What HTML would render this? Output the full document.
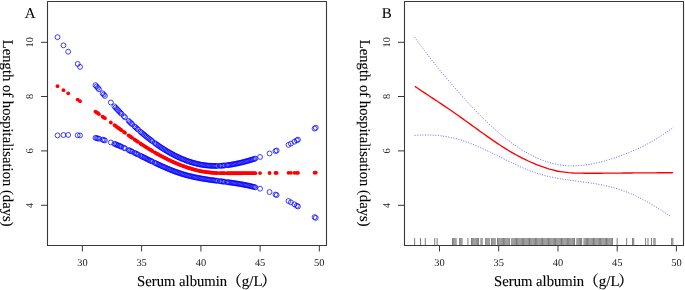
<!DOCTYPE html>
<html><head><meta charset="utf-8"><style>
html,body{margin:0;padding:0;background:#fff;}
body{width:685px;height:290px;overflow:hidden;position:relative;}
svg{position:absolute;left:0;top:0;}
text{text-rendering:geometricPrecision;}
.tl{font-family:"Liberation Serif","Times New Roman",serif;font-size:10.4px;fill:#222;}
.ttl{font-family:"Liberation Serif","Noto Serif CJK SC",serif;font-size:15px;fill:#000;stroke:#000;stroke-width:0.12px;}
</style></head><body>
<svg width="685" height="290" viewBox="0 0 685 290">
<circle cx="57.53" cy="37.17" r="2.45" fill="none" stroke="#0000ff" stroke-width="0.75"/>
<circle cx="57.53" cy="135.38" r="2.45" fill="none" stroke="#0000ff" stroke-width="0.75"/>
<circle cx="63.45" cy="45.31" r="2.45" fill="none" stroke="#0000ff" stroke-width="0.75"/>
<circle cx="63.45" cy="135.05" r="2.45" fill="none" stroke="#0000ff" stroke-width="0.75"/>
<circle cx="68.19" cy="51.69" r="2.45" fill="none" stroke="#0000ff" stroke-width="0.75"/>
<circle cx="68.19" cy="134.96" r="2.45" fill="none" stroke="#0000ff" stroke-width="0.75"/>
<circle cx="77.66" cy="63.95" r="2.45" fill="none" stroke="#0000ff" stroke-width="0.75"/>
<circle cx="77.66" cy="135.26" r="2.45" fill="none" stroke="#0000ff" stroke-width="0.75"/>
<circle cx="80.03" cy="66.89" r="2.45" fill="none" stroke="#0000ff" stroke-width="0.75"/>
<circle cx="80.03" cy="135.45" r="2.45" fill="none" stroke="#0000ff" stroke-width="0.75"/>
<circle cx="95.43" cy="85.14" r="2.45" fill="none" stroke="#0000ff" stroke-width="0.75"/>
<circle cx="95.43" cy="137.84" r="2.45" fill="none" stroke="#0000ff" stroke-width="0.75"/>
<circle cx="96.61" cy="86.50" r="2.45" fill="none" stroke="#0000ff" stroke-width="0.75"/>
<circle cx="96.61" cy="138.11" r="2.45" fill="none" stroke="#0000ff" stroke-width="0.75"/>
<circle cx="97.80" cy="87.86" r="2.45" fill="none" stroke="#0000ff" stroke-width="0.75"/>
<circle cx="97.80" cy="138.40" r="2.45" fill="none" stroke="#0000ff" stroke-width="0.75"/>
<circle cx="98.98" cy="89.22" r="2.45" fill="none" stroke="#0000ff" stroke-width="0.75"/>
<circle cx="98.98" cy="138.70" r="2.45" fill="none" stroke="#0000ff" stroke-width="0.75"/>
<circle cx="102.54" cy="93.26" r="2.45" fill="none" stroke="#0000ff" stroke-width="0.75"/>
<circle cx="102.54" cy="139.68" r="2.45" fill="none" stroke="#0000ff" stroke-width="0.75"/>
<circle cx="103.72" cy="94.60" r="2.45" fill="none" stroke="#0000ff" stroke-width="0.75"/>
<circle cx="103.72" cy="140.04" r="2.45" fill="none" stroke="#0000ff" stroke-width="0.75"/>
<circle cx="104.91" cy="95.93" r="2.45" fill="none" stroke="#0000ff" stroke-width="0.75"/>
<circle cx="104.91" cy="140.41" r="2.45" fill="none" stroke="#0000ff" stroke-width="0.75"/>
<circle cx="110.83" cy="102.49" r="2.45" fill="none" stroke="#0000ff" stroke-width="0.75"/>
<circle cx="110.83" cy="142.44" r="2.45" fill="none" stroke="#0000ff" stroke-width="0.75"/>
<circle cx="114.38" cy="106.33" r="2.45" fill="none" stroke="#0000ff" stroke-width="0.75"/>
<circle cx="114.38" cy="143.80" r="2.45" fill="none" stroke="#0000ff" stroke-width="0.75"/>
<circle cx="115.57" cy="107.60" r="2.45" fill="none" stroke="#0000ff" stroke-width="0.75"/>
<circle cx="115.57" cy="144.27" r="2.45" fill="none" stroke="#0000ff" stroke-width="0.75"/>
<circle cx="116.75" cy="108.85" r="2.45" fill="none" stroke="#0000ff" stroke-width="0.75"/>
<circle cx="116.75" cy="144.75" r="2.45" fill="none" stroke="#0000ff" stroke-width="0.75"/>
<circle cx="117.94" cy="110.10" r="2.45" fill="none" stroke="#0000ff" stroke-width="0.75"/>
<circle cx="117.94" cy="145.25" r="2.45" fill="none" stroke="#0000ff" stroke-width="0.75"/>
<circle cx="119.12" cy="111.33" r="2.45" fill="none" stroke="#0000ff" stroke-width="0.75"/>
<circle cx="119.12" cy="145.75" r="2.45" fill="none" stroke="#0000ff" stroke-width="0.75"/>
<circle cx="120.30" cy="112.56" r="2.45" fill="none" stroke="#0000ff" stroke-width="0.75"/>
<circle cx="120.30" cy="146.25" r="2.45" fill="none" stroke="#0000ff" stroke-width="0.75"/>
<circle cx="121.49" cy="113.78" r="2.45" fill="none" stroke="#0000ff" stroke-width="0.75"/>
<circle cx="121.49" cy="146.77" r="2.45" fill="none" stroke="#0000ff" stroke-width="0.75"/>
<circle cx="123.86" cy="116.18" r="2.45" fill="none" stroke="#0000ff" stroke-width="0.75"/>
<circle cx="123.86" cy="147.82" r="2.45" fill="none" stroke="#0000ff" stroke-width="0.75"/>
<circle cx="125.04" cy="117.36" r="2.45" fill="none" stroke="#0000ff" stroke-width="0.75"/>
<circle cx="125.04" cy="148.36" r="2.45" fill="none" stroke="#0000ff" stroke-width="0.75"/>
<circle cx="128.60" cy="120.84" r="2.45" fill="none" stroke="#0000ff" stroke-width="0.75"/>
<circle cx="128.60" cy="150.01" r="2.45" fill="none" stroke="#0000ff" stroke-width="0.75"/>
<circle cx="129.78" cy="121.98" r="2.45" fill="none" stroke="#0000ff" stroke-width="0.75"/>
<circle cx="129.78" cy="150.57" r="2.45" fill="none" stroke="#0000ff" stroke-width="0.75"/>
<circle cx="130.96" cy="123.10" r="2.45" fill="none" stroke="#0000ff" stroke-width="0.75"/>
<circle cx="130.96" cy="151.13" r="2.45" fill="none" stroke="#0000ff" stroke-width="0.75"/>
<circle cx="132.15" cy="124.22" r="2.45" fill="none" stroke="#0000ff" stroke-width="0.75"/>
<circle cx="132.15" cy="151.70" r="2.45" fill="none" stroke="#0000ff" stroke-width="0.75"/>
<circle cx="134.52" cy="126.41" r="2.45" fill="none" stroke="#0000ff" stroke-width="0.75"/>
<circle cx="134.52" cy="152.84" r="2.45" fill="none" stroke="#0000ff" stroke-width="0.75"/>
<circle cx="135.70" cy="127.49" r="2.45" fill="none" stroke="#0000ff" stroke-width="0.75"/>
<circle cx="135.70" cy="153.42" r="2.45" fill="none" stroke="#0000ff" stroke-width="0.75"/>
<circle cx="136.89" cy="128.55" r="2.45" fill="none" stroke="#0000ff" stroke-width="0.75"/>
<circle cx="136.89" cy="154.00" r="2.45" fill="none" stroke="#0000ff" stroke-width="0.75"/>
<circle cx="138.07" cy="129.61" r="2.45" fill="none" stroke="#0000ff" stroke-width="0.75"/>
<circle cx="138.07" cy="154.59" r="2.45" fill="none" stroke="#0000ff" stroke-width="0.75"/>
<circle cx="140.44" cy="131.67" r="2.45" fill="none" stroke="#0000ff" stroke-width="0.75"/>
<circle cx="140.44" cy="155.76" r="2.45" fill="none" stroke="#0000ff" stroke-width="0.75"/>
<circle cx="141.62" cy="132.69" r="2.45" fill="none" stroke="#0000ff" stroke-width="0.75"/>
<circle cx="141.62" cy="156.34" r="2.45" fill="none" stroke="#0000ff" stroke-width="0.75"/>
<circle cx="142.81" cy="133.69" r="2.45" fill="none" stroke="#0000ff" stroke-width="0.75"/>
<circle cx="142.81" cy="156.93" r="2.45" fill="none" stroke="#0000ff" stroke-width="0.75"/>
<circle cx="143.99" cy="134.68" r="2.45" fill="none" stroke="#0000ff" stroke-width="0.75"/>
<circle cx="143.99" cy="157.52" r="2.45" fill="none" stroke="#0000ff" stroke-width="0.75"/>
<circle cx="145.18" cy="135.65" r="2.45" fill="none" stroke="#0000ff" stroke-width="0.75"/>
<circle cx="145.18" cy="158.10" r="2.45" fill="none" stroke="#0000ff" stroke-width="0.75"/>
<circle cx="146.36" cy="136.62" r="2.45" fill="none" stroke="#0000ff" stroke-width="0.75"/>
<circle cx="146.36" cy="158.69" r="2.45" fill="none" stroke="#0000ff" stroke-width="0.75"/>
<circle cx="147.55" cy="137.57" r="2.45" fill="none" stroke="#0000ff" stroke-width="0.75"/>
<circle cx="147.55" cy="159.27" r="2.45" fill="none" stroke="#0000ff" stroke-width="0.75"/>
<circle cx="148.73" cy="138.50" r="2.45" fill="none" stroke="#0000ff" stroke-width="0.75"/>
<circle cx="148.73" cy="159.86" r="2.45" fill="none" stroke="#0000ff" stroke-width="0.75"/>
<circle cx="149.92" cy="139.42" r="2.45" fill="none" stroke="#0000ff" stroke-width="0.75"/>
<circle cx="149.92" cy="160.44" r="2.45" fill="none" stroke="#0000ff" stroke-width="0.75"/>
<circle cx="151.10" cy="140.33" r="2.45" fill="none" stroke="#0000ff" stroke-width="0.75"/>
<circle cx="151.10" cy="161.02" r="2.45" fill="none" stroke="#0000ff" stroke-width="0.75"/>
<circle cx="152.29" cy="141.23" r="2.45" fill="none" stroke="#0000ff" stroke-width="0.75"/>
<circle cx="152.29" cy="161.59" r="2.45" fill="none" stroke="#0000ff" stroke-width="0.75"/>
<circle cx="154.65" cy="142.97" r="2.45" fill="none" stroke="#0000ff" stroke-width="0.75"/>
<circle cx="154.65" cy="162.73" r="2.45" fill="none" stroke="#0000ff" stroke-width="0.75"/>
<circle cx="155.84" cy="143.83" r="2.45" fill="none" stroke="#0000ff" stroke-width="0.75"/>
<circle cx="155.84" cy="163.30" r="2.45" fill="none" stroke="#0000ff" stroke-width="0.75"/>
<circle cx="157.02" cy="144.67" r="2.45" fill="none" stroke="#0000ff" stroke-width="0.75"/>
<circle cx="157.02" cy="163.86" r="2.45" fill="none" stroke="#0000ff" stroke-width="0.75"/>
<circle cx="158.21" cy="145.49" r="2.45" fill="none" stroke="#0000ff" stroke-width="0.75"/>
<circle cx="158.21" cy="164.42" r="2.45" fill="none" stroke="#0000ff" stroke-width="0.75"/>
<circle cx="159.39" cy="146.30" r="2.45" fill="none" stroke="#0000ff" stroke-width="0.75"/>
<circle cx="159.39" cy="164.97" r="2.45" fill="none" stroke="#0000ff" stroke-width="0.75"/>
<circle cx="160.58" cy="147.09" r="2.45" fill="none" stroke="#0000ff" stroke-width="0.75"/>
<circle cx="160.58" cy="165.51" r="2.45" fill="none" stroke="#0000ff" stroke-width="0.75"/>
<circle cx="161.76" cy="147.87" r="2.45" fill="none" stroke="#0000ff" stroke-width="0.75"/>
<circle cx="161.76" cy="166.05" r="2.45" fill="none" stroke="#0000ff" stroke-width="0.75"/>
<circle cx="162.95" cy="148.64" r="2.45" fill="none" stroke="#0000ff" stroke-width="0.75"/>
<circle cx="162.95" cy="166.58" r="2.45" fill="none" stroke="#0000ff" stroke-width="0.75"/>
<circle cx="164.13" cy="149.39" r="2.45" fill="none" stroke="#0000ff" stroke-width="0.75"/>
<circle cx="164.13" cy="167.11" r="2.45" fill="none" stroke="#0000ff" stroke-width="0.75"/>
<circle cx="165.31" cy="150.12" r="2.45" fill="none" stroke="#0000ff" stroke-width="0.75"/>
<circle cx="165.31" cy="167.63" r="2.45" fill="none" stroke="#0000ff" stroke-width="0.75"/>
<circle cx="166.50" cy="150.84" r="2.45" fill="none" stroke="#0000ff" stroke-width="0.75"/>
<circle cx="166.50" cy="168.14" r="2.45" fill="none" stroke="#0000ff" stroke-width="0.75"/>
<circle cx="167.68" cy="151.55" r="2.45" fill="none" stroke="#0000ff" stroke-width="0.75"/>
<circle cx="167.68" cy="168.64" r="2.45" fill="none" stroke="#0000ff" stroke-width="0.75"/>
<circle cx="168.87" cy="152.24" r="2.45" fill="none" stroke="#0000ff" stroke-width="0.75"/>
<circle cx="168.87" cy="169.14" r="2.45" fill="none" stroke="#0000ff" stroke-width="0.75"/>
<circle cx="170.05" cy="152.91" r="2.45" fill="none" stroke="#0000ff" stroke-width="0.75"/>
<circle cx="170.05" cy="169.62" r="2.45" fill="none" stroke="#0000ff" stroke-width="0.75"/>
<circle cx="171.24" cy="153.57" r="2.45" fill="none" stroke="#0000ff" stroke-width="0.75"/>
<circle cx="171.24" cy="170.10" r="2.45" fill="none" stroke="#0000ff" stroke-width="0.75"/>
<circle cx="172.42" cy="154.21" r="2.45" fill="none" stroke="#0000ff" stroke-width="0.75"/>
<circle cx="172.42" cy="170.56" r="2.45" fill="none" stroke="#0000ff" stroke-width="0.75"/>
<circle cx="173.61" cy="154.84" r="2.45" fill="none" stroke="#0000ff" stroke-width="0.75"/>
<circle cx="173.61" cy="171.02" r="2.45" fill="none" stroke="#0000ff" stroke-width="0.75"/>
<circle cx="174.79" cy="155.45" r="2.45" fill="none" stroke="#0000ff" stroke-width="0.75"/>
<circle cx="174.79" cy="171.46" r="2.45" fill="none" stroke="#0000ff" stroke-width="0.75"/>
<circle cx="175.98" cy="156.04" r="2.45" fill="none" stroke="#0000ff" stroke-width="0.75"/>
<circle cx="175.98" cy="171.90" r="2.45" fill="none" stroke="#0000ff" stroke-width="0.75"/>
<circle cx="177.16" cy="156.62" r="2.45" fill="none" stroke="#0000ff" stroke-width="0.75"/>
<circle cx="177.16" cy="172.32" r="2.45" fill="none" stroke="#0000ff" stroke-width="0.75"/>
<circle cx="178.34" cy="157.18" r="2.45" fill="none" stroke="#0000ff" stroke-width="0.75"/>
<circle cx="178.34" cy="172.73" r="2.45" fill="none" stroke="#0000ff" stroke-width="0.75"/>
<circle cx="179.53" cy="157.73" r="2.45" fill="none" stroke="#0000ff" stroke-width="0.75"/>
<circle cx="179.53" cy="173.13" r="2.45" fill="none" stroke="#0000ff" stroke-width="0.75"/>
<circle cx="180.71" cy="158.26" r="2.45" fill="none" stroke="#0000ff" stroke-width="0.75"/>
<circle cx="180.71" cy="173.52" r="2.45" fill="none" stroke="#0000ff" stroke-width="0.75"/>
<circle cx="181.90" cy="158.77" r="2.45" fill="none" stroke="#0000ff" stroke-width="0.75"/>
<circle cx="181.90" cy="173.89" r="2.45" fill="none" stroke="#0000ff" stroke-width="0.75"/>
<circle cx="183.08" cy="159.27" r="2.45" fill="none" stroke="#0000ff" stroke-width="0.75"/>
<circle cx="183.08" cy="174.25" r="2.45" fill="none" stroke="#0000ff" stroke-width="0.75"/>
<circle cx="184.27" cy="159.74" r="2.45" fill="none" stroke="#0000ff" stroke-width="0.75"/>
<circle cx="184.27" cy="174.60" r="2.45" fill="none" stroke="#0000ff" stroke-width="0.75"/>
<circle cx="185.45" cy="160.21" r="2.45" fill="none" stroke="#0000ff" stroke-width="0.75"/>
<circle cx="185.45" cy="174.94" r="2.45" fill="none" stroke="#0000ff" stroke-width="0.75"/>
<circle cx="186.64" cy="160.65" r="2.45" fill="none" stroke="#0000ff" stroke-width="0.75"/>
<circle cx="186.64" cy="175.26" r="2.45" fill="none" stroke="#0000ff" stroke-width="0.75"/>
<circle cx="187.82" cy="161.08" r="2.45" fill="none" stroke="#0000ff" stroke-width="0.75"/>
<circle cx="187.82" cy="175.58" r="2.45" fill="none" stroke="#0000ff" stroke-width="0.75"/>
<circle cx="189.00" cy="161.49" r="2.45" fill="none" stroke="#0000ff" stroke-width="0.75"/>
<circle cx="189.00" cy="175.88" r="2.45" fill="none" stroke="#0000ff" stroke-width="0.75"/>
<circle cx="190.19" cy="161.88" r="2.45" fill="none" stroke="#0000ff" stroke-width="0.75"/>
<circle cx="190.19" cy="176.17" r="2.45" fill="none" stroke="#0000ff" stroke-width="0.75"/>
<circle cx="191.37" cy="162.25" r="2.45" fill="none" stroke="#0000ff" stroke-width="0.75"/>
<circle cx="191.37" cy="176.45" r="2.45" fill="none" stroke="#0000ff" stroke-width="0.75"/>
<circle cx="192.56" cy="162.61" r="2.45" fill="none" stroke="#0000ff" stroke-width="0.75"/>
<circle cx="192.56" cy="176.72" r="2.45" fill="none" stroke="#0000ff" stroke-width="0.75"/>
<circle cx="193.74" cy="162.95" r="2.45" fill="none" stroke="#0000ff" stroke-width="0.75"/>
<circle cx="193.74" cy="176.98" r="2.45" fill="none" stroke="#0000ff" stroke-width="0.75"/>
<circle cx="194.93" cy="163.27" r="2.45" fill="none" stroke="#0000ff" stroke-width="0.75"/>
<circle cx="194.93" cy="177.24" r="2.45" fill="none" stroke="#0000ff" stroke-width="0.75"/>
<circle cx="196.11" cy="163.57" r="2.45" fill="none" stroke="#0000ff" stroke-width="0.75"/>
<circle cx="196.11" cy="177.48" r="2.45" fill="none" stroke="#0000ff" stroke-width="0.75"/>
<circle cx="197.30" cy="163.86" r="2.45" fill="none" stroke="#0000ff" stroke-width="0.75"/>
<circle cx="197.30" cy="177.72" r="2.45" fill="none" stroke="#0000ff" stroke-width="0.75"/>
<circle cx="198.48" cy="164.13" r="2.45" fill="none" stroke="#0000ff" stroke-width="0.75"/>
<circle cx="198.48" cy="177.95" r="2.45" fill="none" stroke="#0000ff" stroke-width="0.75"/>
<circle cx="199.67" cy="164.37" r="2.45" fill="none" stroke="#0000ff" stroke-width="0.75"/>
<circle cx="199.67" cy="178.17" r="2.45" fill="none" stroke="#0000ff" stroke-width="0.75"/>
<circle cx="200.85" cy="164.60" r="2.45" fill="none" stroke="#0000ff" stroke-width="0.75"/>
<circle cx="200.85" cy="178.38" r="2.45" fill="none" stroke="#0000ff" stroke-width="0.75"/>
<circle cx="202.03" cy="164.82" r="2.45" fill="none" stroke="#0000ff" stroke-width="0.75"/>
<circle cx="202.03" cy="178.59" r="2.45" fill="none" stroke="#0000ff" stroke-width="0.75"/>
<circle cx="203.22" cy="165.01" r="2.45" fill="none" stroke="#0000ff" stroke-width="0.75"/>
<circle cx="203.22" cy="178.79" r="2.45" fill="none" stroke="#0000ff" stroke-width="0.75"/>
<circle cx="204.40" cy="165.18" r="2.45" fill="none" stroke="#0000ff" stroke-width="0.75"/>
<circle cx="204.40" cy="178.98" r="2.45" fill="none" stroke="#0000ff" stroke-width="0.75"/>
<circle cx="205.59" cy="165.34" r="2.45" fill="none" stroke="#0000ff" stroke-width="0.75"/>
<circle cx="205.59" cy="179.17" r="2.45" fill="none" stroke="#0000ff" stroke-width="0.75"/>
<circle cx="206.77" cy="165.47" r="2.45" fill="none" stroke="#0000ff" stroke-width="0.75"/>
<circle cx="206.77" cy="179.36" r="2.45" fill="none" stroke="#0000ff" stroke-width="0.75"/>
<circle cx="207.96" cy="165.59" r="2.45" fill="none" stroke="#0000ff" stroke-width="0.75"/>
<circle cx="207.96" cy="179.54" r="2.45" fill="none" stroke="#0000ff" stroke-width="0.75"/>
<circle cx="209.14" cy="165.69" r="2.45" fill="none" stroke="#0000ff" stroke-width="0.75"/>
<circle cx="209.14" cy="179.71" r="2.45" fill="none" stroke="#0000ff" stroke-width="0.75"/>
<circle cx="210.33" cy="165.77" r="2.45" fill="none" stroke="#0000ff" stroke-width="0.75"/>
<circle cx="210.33" cy="179.88" r="2.45" fill="none" stroke="#0000ff" stroke-width="0.75"/>
<circle cx="211.51" cy="165.84" r="2.45" fill="none" stroke="#0000ff" stroke-width="0.75"/>
<circle cx="211.51" cy="180.05" r="2.45" fill="none" stroke="#0000ff" stroke-width="0.75"/>
<circle cx="212.70" cy="165.88" r="2.45" fill="none" stroke="#0000ff" stroke-width="0.75"/>
<circle cx="212.70" cy="180.22" r="2.45" fill="none" stroke="#0000ff" stroke-width="0.75"/>
<circle cx="213.88" cy="165.91" r="2.45" fill="none" stroke="#0000ff" stroke-width="0.75"/>
<circle cx="213.88" cy="180.38" r="2.45" fill="none" stroke="#0000ff" stroke-width="0.75"/>
<circle cx="215.06" cy="165.93" r="2.45" fill="none" stroke="#0000ff" stroke-width="0.75"/>
<circle cx="215.06" cy="180.54" r="2.45" fill="none" stroke="#0000ff" stroke-width="0.75"/>
<circle cx="216.25" cy="165.93" r="2.45" fill="none" stroke="#0000ff" stroke-width="0.75"/>
<circle cx="216.25" cy="180.69" r="2.45" fill="none" stroke="#0000ff" stroke-width="0.75"/>
<circle cx="217.43" cy="165.91" r="2.45" fill="none" stroke="#0000ff" stroke-width="0.75"/>
<circle cx="217.43" cy="180.85" r="2.45" fill="none" stroke="#0000ff" stroke-width="0.75"/>
<circle cx="219.80" cy="165.82" r="2.45" fill="none" stroke="#0000ff" stroke-width="0.75"/>
<circle cx="219.80" cy="181.16" r="2.45" fill="none" stroke="#0000ff" stroke-width="0.75"/>
<circle cx="220.99" cy="165.76" r="2.45" fill="none" stroke="#0000ff" stroke-width="0.75"/>
<circle cx="220.99" cy="181.31" r="2.45" fill="none" stroke="#0000ff" stroke-width="0.75"/>
<circle cx="222.17" cy="165.68" r="2.45" fill="none" stroke="#0000ff" stroke-width="0.75"/>
<circle cx="222.17" cy="181.46" r="2.45" fill="none" stroke="#0000ff" stroke-width="0.75"/>
<circle cx="223.36" cy="165.58" r="2.45" fill="none" stroke="#0000ff" stroke-width="0.75"/>
<circle cx="223.36" cy="181.62" r="2.45" fill="none" stroke="#0000ff" stroke-width="0.75"/>
<circle cx="224.54" cy="165.47" r="2.45" fill="none" stroke="#0000ff" stroke-width="0.75"/>
<circle cx="224.54" cy="181.77" r="2.45" fill="none" stroke="#0000ff" stroke-width="0.75"/>
<circle cx="226.91" cy="165.22" r="2.45" fill="none" stroke="#0000ff" stroke-width="0.75"/>
<circle cx="226.91" cy="182.08" r="2.45" fill="none" stroke="#0000ff" stroke-width="0.75"/>
<circle cx="228.09" cy="165.07" r="2.45" fill="none" stroke="#0000ff" stroke-width="0.75"/>
<circle cx="228.09" cy="182.24" r="2.45" fill="none" stroke="#0000ff" stroke-width="0.75"/>
<circle cx="229.28" cy="164.90" r="2.45" fill="none" stroke="#0000ff" stroke-width="0.75"/>
<circle cx="229.28" cy="182.40" r="2.45" fill="none" stroke="#0000ff" stroke-width="0.75"/>
<circle cx="230.46" cy="164.73" r="2.45" fill="none" stroke="#0000ff" stroke-width="0.75"/>
<circle cx="230.46" cy="182.57" r="2.45" fill="none" stroke="#0000ff" stroke-width="0.75"/>
<circle cx="231.65" cy="164.54" r="2.45" fill="none" stroke="#0000ff" stroke-width="0.75"/>
<circle cx="231.65" cy="182.74" r="2.45" fill="none" stroke="#0000ff" stroke-width="0.75"/>
<circle cx="232.83" cy="164.34" r="2.45" fill="none" stroke="#0000ff" stroke-width="0.75"/>
<circle cx="232.83" cy="182.91" r="2.45" fill="none" stroke="#0000ff" stroke-width="0.75"/>
<circle cx="234.02" cy="164.12" r="2.45" fill="none" stroke="#0000ff" stroke-width="0.75"/>
<circle cx="234.02" cy="183.08" r="2.45" fill="none" stroke="#0000ff" stroke-width="0.75"/>
<circle cx="235.20" cy="163.90" r="2.45" fill="none" stroke="#0000ff" stroke-width="0.75"/>
<circle cx="235.20" cy="183.26" r="2.45" fill="none" stroke="#0000ff" stroke-width="0.75"/>
<circle cx="236.38" cy="163.66" r="2.45" fill="none" stroke="#0000ff" stroke-width="0.75"/>
<circle cx="236.38" cy="183.44" r="2.45" fill="none" stroke="#0000ff" stroke-width="0.75"/>
<circle cx="237.57" cy="163.41" r="2.45" fill="none" stroke="#0000ff" stroke-width="0.75"/>
<circle cx="237.57" cy="183.63" r="2.45" fill="none" stroke="#0000ff" stroke-width="0.75"/>
<circle cx="238.75" cy="163.16" r="2.45" fill="none" stroke="#0000ff" stroke-width="0.75"/>
<circle cx="238.75" cy="183.82" r="2.45" fill="none" stroke="#0000ff" stroke-width="0.75"/>
<circle cx="239.94" cy="162.89" r="2.45" fill="none" stroke="#0000ff" stroke-width="0.75"/>
<circle cx="239.94" cy="184.02" r="2.45" fill="none" stroke="#0000ff" stroke-width="0.75"/>
<circle cx="241.12" cy="162.61" r="2.45" fill="none" stroke="#0000ff" stroke-width="0.75"/>
<circle cx="241.12" cy="184.23" r="2.45" fill="none" stroke="#0000ff" stroke-width="0.75"/>
<circle cx="242.31" cy="162.32" r="2.45" fill="none" stroke="#0000ff" stroke-width="0.75"/>
<circle cx="242.31" cy="184.44" r="2.45" fill="none" stroke="#0000ff" stroke-width="0.75"/>
<circle cx="243.49" cy="162.02" r="2.45" fill="none" stroke="#0000ff" stroke-width="0.75"/>
<circle cx="243.49" cy="184.66" r="2.45" fill="none" stroke="#0000ff" stroke-width="0.75"/>
<circle cx="244.68" cy="161.71" r="2.45" fill="none" stroke="#0000ff" stroke-width="0.75"/>
<circle cx="244.68" cy="184.89" r="2.45" fill="none" stroke="#0000ff" stroke-width="0.75"/>
<circle cx="245.86" cy="161.39" r="2.45" fill="none" stroke="#0000ff" stroke-width="0.75"/>
<circle cx="245.86" cy="185.12" r="2.45" fill="none" stroke="#0000ff" stroke-width="0.75"/>
<circle cx="247.05" cy="161.07" r="2.45" fill="none" stroke="#0000ff" stroke-width="0.75"/>
<circle cx="247.05" cy="185.36" r="2.45" fill="none" stroke="#0000ff" stroke-width="0.75"/>
<circle cx="248.23" cy="160.73" r="2.45" fill="none" stroke="#0000ff" stroke-width="0.75"/>
<circle cx="248.23" cy="185.61" r="2.45" fill="none" stroke="#0000ff" stroke-width="0.75"/>
<circle cx="249.41" cy="160.39" r="2.45" fill="none" stroke="#0000ff" stroke-width="0.75"/>
<circle cx="249.41" cy="185.87" r="2.45" fill="none" stroke="#0000ff" stroke-width="0.75"/>
<circle cx="250.60" cy="160.04" r="2.45" fill="none" stroke="#0000ff" stroke-width="0.75"/>
<circle cx="250.60" cy="186.14" r="2.45" fill="none" stroke="#0000ff" stroke-width="0.75"/>
<circle cx="251.78" cy="159.68" r="2.45" fill="none" stroke="#0000ff" stroke-width="0.75"/>
<circle cx="251.78" cy="186.42" r="2.45" fill="none" stroke="#0000ff" stroke-width="0.75"/>
<circle cx="252.97" cy="159.31" r="2.45" fill="none" stroke="#0000ff" stroke-width="0.75"/>
<circle cx="252.97" cy="186.71" r="2.45" fill="none" stroke="#0000ff" stroke-width="0.75"/>
<circle cx="254.15" cy="158.94" r="2.45" fill="none" stroke="#0000ff" stroke-width="0.75"/>
<circle cx="254.15" cy="187.01" r="2.45" fill="none" stroke="#0000ff" stroke-width="0.75"/>
<circle cx="255.34" cy="158.56" r="2.45" fill="none" stroke="#0000ff" stroke-width="0.75"/>
<circle cx="255.34" cy="187.32" r="2.45" fill="none" stroke="#0000ff" stroke-width="0.75"/>
<circle cx="260.07" cy="156.97" r="2.45" fill="none" stroke="#0000ff" stroke-width="0.75"/>
<circle cx="260.07" cy="188.68" r="2.45" fill="none" stroke="#0000ff" stroke-width="0.75"/>
<circle cx="269.55" cy="153.47" r="2.45" fill="none" stroke="#0000ff" stroke-width="0.75"/>
<circle cx="269.55" cy="192.02" r="2.45" fill="none" stroke="#0000ff" stroke-width="0.75"/>
<circle cx="275.47" cy="151.03" r="2.45" fill="none" stroke="#0000ff" stroke-width="0.75"/>
<circle cx="275.47" cy="194.53" r="2.45" fill="none" stroke="#0000ff" stroke-width="0.75"/>
<circle cx="276.66" cy="150.52" r="2.45" fill="none" stroke="#0000ff" stroke-width="0.75"/>
<circle cx="276.66" cy="195.06" r="2.45" fill="none" stroke="#0000ff" stroke-width="0.75"/>
<circle cx="288.50" cy="144.88" r="2.45" fill="none" stroke="#0000ff" stroke-width="0.75"/>
<circle cx="288.50" cy="201.02" r="2.45" fill="none" stroke="#0000ff" stroke-width="0.75"/>
<circle cx="290.87" cy="143.64" r="2.45" fill="none" stroke="#0000ff" stroke-width="0.75"/>
<circle cx="290.87" cy="202.33" r="2.45" fill="none" stroke="#0000ff" stroke-width="0.75"/>
<circle cx="294.43" cy="141.68" r="2.45" fill="none" stroke="#0000ff" stroke-width="0.75"/>
<circle cx="294.43" cy="204.36" r="2.45" fill="none" stroke="#0000ff" stroke-width="0.75"/>
<circle cx="296.79" cy="140.33" r="2.45" fill="none" stroke="#0000ff" stroke-width="0.75"/>
<circle cx="296.79" cy="205.76" r="2.45" fill="none" stroke="#0000ff" stroke-width="0.75"/>
<circle cx="297.98" cy="139.63" r="2.45" fill="none" stroke="#0000ff" stroke-width="0.75"/>
<circle cx="297.98" cy="206.46" r="2.45" fill="none" stroke="#0000ff" stroke-width="0.75"/>
<circle cx="314.56" cy="128.62" r="2.45" fill="none" stroke="#0000ff" stroke-width="0.75"/>
<circle cx="314.56" cy="217.11" r="2.45" fill="none" stroke="#0000ff" stroke-width="0.75"/>
<circle cx="315.75" cy="127.73" r="2.45" fill="none" stroke="#0000ff" stroke-width="0.75"/>
<circle cx="315.75" cy="217.91" r="2.45" fill="none" stroke="#0000ff" stroke-width="0.75"/>
<circle cx="57.53" cy="86.22" r="1.9" fill="#ff0000"/>
<circle cx="63.45" cy="90.18" r="1.9" fill="#ff0000"/>
<circle cx="68.19" cy="93.34" r="1.9" fill="#ff0000"/>
<circle cx="77.66" cy="99.62" r="1.9" fill="#ff0000"/>
<circle cx="80.03" cy="101.19" r="1.9" fill="#ff0000"/>
<circle cx="95.43" cy="111.58" r="1.9" fill="#ff0000"/>
<circle cx="96.61" cy="112.40" r="1.9" fill="#ff0000"/>
<circle cx="97.80" cy="113.22" r="1.9" fill="#ff0000"/>
<circle cx="98.98" cy="114.05" r="1.9" fill="#ff0000"/>
<circle cx="102.54" cy="116.54" r="1.9" fill="#ff0000"/>
<circle cx="103.72" cy="117.38" r="1.9" fill="#ff0000"/>
<circle cx="104.91" cy="118.22" r="1.9" fill="#ff0000"/>
<circle cx="110.83" cy="122.48" r="1.9" fill="#ff0000"/>
<circle cx="114.38" cy="125.06" r="1.9" fill="#ff0000"/>
<circle cx="115.57" cy="125.92" r="1.9" fill="#ff0000"/>
<circle cx="116.75" cy="126.78" r="1.9" fill="#ff0000"/>
<circle cx="117.94" cy="127.64" r="1.9" fill="#ff0000"/>
<circle cx="119.12" cy="128.50" r="1.9" fill="#ff0000"/>
<circle cx="120.30" cy="129.36" r="1.9" fill="#ff0000"/>
<circle cx="121.49" cy="130.22" r="1.9" fill="#ff0000"/>
<circle cx="123.86" cy="131.94" r="1.9" fill="#ff0000"/>
<circle cx="125.04" cy="132.79" r="1.9" fill="#ff0000"/>
<circle cx="128.60" cy="135.32" r="1.9" fill="#ff0000"/>
<circle cx="129.78" cy="136.17" r="1.9" fill="#ff0000"/>
<circle cx="130.96" cy="137.00" r="1.9" fill="#ff0000"/>
<circle cx="132.15" cy="137.84" r="1.9" fill="#ff0000"/>
<circle cx="134.52" cy="139.49" r="1.9" fill="#ff0000"/>
<circle cx="135.70" cy="140.30" r="1.9" fill="#ff0000"/>
<circle cx="136.89" cy="141.11" r="1.9" fill="#ff0000"/>
<circle cx="138.07" cy="141.91" r="1.9" fill="#ff0000"/>
<circle cx="140.44" cy="143.50" r="1.9" fill="#ff0000"/>
<circle cx="141.62" cy="144.29" r="1.9" fill="#ff0000"/>
<circle cx="142.81" cy="145.07" r="1.9" fill="#ff0000"/>
<circle cx="143.99" cy="145.84" r="1.9" fill="#ff0000"/>
<circle cx="145.18" cy="146.59" r="1.9" fill="#ff0000"/>
<circle cx="146.36" cy="147.34" r="1.9" fill="#ff0000"/>
<circle cx="147.55" cy="148.09" r="1.9" fill="#ff0000"/>
<circle cx="148.73" cy="148.82" r="1.9" fill="#ff0000"/>
<circle cx="149.92" cy="149.55" r="1.9" fill="#ff0000"/>
<circle cx="151.10" cy="150.27" r="1.9" fill="#ff0000"/>
<circle cx="152.29" cy="150.98" r="1.9" fill="#ff0000"/>
<circle cx="154.65" cy="152.37" r="1.9" fill="#ff0000"/>
<circle cx="155.84" cy="153.05" r="1.9" fill="#ff0000"/>
<circle cx="157.02" cy="153.73" r="1.9" fill="#ff0000"/>
<circle cx="158.21" cy="154.39" r="1.9" fill="#ff0000"/>
<circle cx="159.39" cy="155.05" r="1.9" fill="#ff0000"/>
<circle cx="160.58" cy="155.69" r="1.9" fill="#ff0000"/>
<circle cx="161.76" cy="156.33" r="1.9" fill="#ff0000"/>
<circle cx="162.95" cy="156.96" r="1.9" fill="#ff0000"/>
<circle cx="164.13" cy="157.57" r="1.9" fill="#ff0000"/>
<circle cx="165.31" cy="158.17" r="1.9" fill="#ff0000"/>
<circle cx="166.50" cy="158.77" r="1.9" fill="#ff0000"/>
<circle cx="167.68" cy="159.35" r="1.9" fill="#ff0000"/>
<circle cx="168.87" cy="159.93" r="1.9" fill="#ff0000"/>
<circle cx="170.05" cy="160.50" r="1.9" fill="#ff0000"/>
<circle cx="171.24" cy="161.05" r="1.9" fill="#ff0000"/>
<circle cx="172.42" cy="161.60" r="1.9" fill="#ff0000"/>
<circle cx="173.61" cy="162.13" r="1.9" fill="#ff0000"/>
<circle cx="174.79" cy="162.64" r="1.9" fill="#ff0000"/>
<circle cx="175.98" cy="163.15" r="1.9" fill="#ff0000"/>
<circle cx="177.16" cy="163.65" r="1.9" fill="#ff0000"/>
<circle cx="178.34" cy="164.15" r="1.9" fill="#ff0000"/>
<circle cx="179.53" cy="164.63" r="1.9" fill="#ff0000"/>
<circle cx="180.71" cy="165.09" r="1.9" fill="#ff0000"/>
<circle cx="181.90" cy="165.55" r="1.9" fill="#ff0000"/>
<circle cx="183.08" cy="165.99" r="1.9" fill="#ff0000"/>
<circle cx="184.27" cy="166.41" r="1.9" fill="#ff0000"/>
<circle cx="185.45" cy="166.83" r="1.9" fill="#ff0000"/>
<circle cx="186.64" cy="167.24" r="1.9" fill="#ff0000"/>
<circle cx="187.82" cy="167.63" r="1.9" fill="#ff0000"/>
<circle cx="189.00" cy="168.02" r="1.9" fill="#ff0000"/>
<circle cx="190.19" cy="168.39" r="1.9" fill="#ff0000"/>
<circle cx="191.37" cy="168.75" r="1.9" fill="#ff0000"/>
<circle cx="192.56" cy="169.09" r="1.9" fill="#ff0000"/>
<circle cx="193.74" cy="169.42" r="1.9" fill="#ff0000"/>
<circle cx="194.93" cy="169.74" r="1.9" fill="#ff0000"/>
<circle cx="196.11" cy="170.06" r="1.9" fill="#ff0000"/>
<circle cx="197.30" cy="170.37" r="1.9" fill="#ff0000"/>
<circle cx="198.48" cy="170.67" r="1.9" fill="#ff0000"/>
<circle cx="199.67" cy="170.94" r="1.9" fill="#ff0000"/>
<circle cx="200.85" cy="171.19" r="1.9" fill="#ff0000"/>
<circle cx="202.03" cy="171.41" r="1.9" fill="#ff0000"/>
<circle cx="203.22" cy="171.59" r="1.9" fill="#ff0000"/>
<circle cx="204.40" cy="171.76" r="1.9" fill="#ff0000"/>
<circle cx="205.59" cy="171.93" r="1.9" fill="#ff0000"/>
<circle cx="206.77" cy="172.09" r="1.9" fill="#ff0000"/>
<circle cx="207.96" cy="172.24" r="1.9" fill="#ff0000"/>
<circle cx="209.14" cy="172.38" r="1.9" fill="#ff0000"/>
<circle cx="210.33" cy="172.52" r="1.9" fill="#ff0000"/>
<circle cx="211.51" cy="172.64" r="1.9" fill="#ff0000"/>
<circle cx="212.70" cy="172.75" r="1.9" fill="#ff0000"/>
<circle cx="213.88" cy="172.85" r="1.9" fill="#ff0000"/>
<circle cx="215.06" cy="172.93" r="1.9" fill="#ff0000"/>
<circle cx="216.25" cy="172.99" r="1.9" fill="#ff0000"/>
<circle cx="217.43" cy="173.04" r="1.9" fill="#ff0000"/>
<circle cx="219.80" cy="173.09" r="1.9" fill="#ff0000"/>
<circle cx="220.99" cy="173.12" r="1.9" fill="#ff0000"/>
<circle cx="222.17" cy="173.14" r="1.9" fill="#ff0000"/>
<circle cx="223.36" cy="173.16" r="1.9" fill="#ff0000"/>
<circle cx="224.54" cy="173.18" r="1.9" fill="#ff0000"/>
<circle cx="226.91" cy="173.21" r="1.9" fill="#ff0000"/>
<circle cx="228.09" cy="173.23" r="1.9" fill="#ff0000"/>
<circle cx="229.28" cy="173.24" r="1.9" fill="#ff0000"/>
<circle cx="230.46" cy="173.24" r="1.9" fill="#ff0000"/>
<circle cx="231.65" cy="173.25" r="1.9" fill="#ff0000"/>
<circle cx="232.83" cy="173.25" r="1.9" fill="#ff0000"/>
<circle cx="234.02" cy="173.25" r="1.9" fill="#ff0000"/>
<circle cx="235.20" cy="173.25" r="1.9" fill="#ff0000"/>
<circle cx="236.38" cy="173.25" r="1.9" fill="#ff0000"/>
<circle cx="237.57" cy="173.24" r="1.9" fill="#ff0000"/>
<circle cx="238.75" cy="173.24" r="1.9" fill="#ff0000"/>
<circle cx="239.94" cy="173.23" r="1.9" fill="#ff0000"/>
<circle cx="241.12" cy="173.23" r="1.9" fill="#ff0000"/>
<circle cx="242.31" cy="173.22" r="1.9" fill="#ff0000"/>
<circle cx="243.49" cy="173.21" r="1.9" fill="#ff0000"/>
<circle cx="244.68" cy="173.20" r="1.9" fill="#ff0000"/>
<circle cx="245.86" cy="173.20" r="1.9" fill="#ff0000"/>
<circle cx="247.05" cy="173.19" r="1.9" fill="#ff0000"/>
<circle cx="248.23" cy="173.18" r="1.9" fill="#ff0000"/>
<circle cx="249.41" cy="173.17" r="1.9" fill="#ff0000"/>
<circle cx="250.60" cy="173.16" r="1.9" fill="#ff0000"/>
<circle cx="251.78" cy="173.16" r="1.9" fill="#ff0000"/>
<circle cx="252.97" cy="173.15" r="1.9" fill="#ff0000"/>
<circle cx="254.15" cy="173.14" r="1.9" fill="#ff0000"/>
<circle cx="255.34" cy="173.13" r="1.9" fill="#ff0000"/>
<circle cx="260.07" cy="173.10" r="1.9" fill="#ff0000"/>
<circle cx="269.55" cy="173.01" r="1.9" fill="#ff0000"/>
<circle cx="275.47" cy="172.96" r="1.9" fill="#ff0000"/>
<circle cx="276.66" cy="172.95" r="1.9" fill="#ff0000"/>
<circle cx="288.50" cy="172.86" r="1.9" fill="#ff0000"/>
<circle cx="290.87" cy="172.85" r="1.9" fill="#ff0000"/>
<circle cx="294.43" cy="172.82" r="1.9" fill="#ff0000"/>
<circle cx="296.79" cy="172.81" r="1.9" fill="#ff0000"/>
<circle cx="297.98" cy="172.80" r="1.9" fill="#ff0000"/>
<circle cx="314.56" cy="172.71" r="1.9" fill="#ff0000"/>
<circle cx="315.75" cy="172.70" r="1.9" fill="#ff0000"/>
<polyline points="414.70,37.27 416.87,40.27 419.03,43.24 421.20,46.19 423.36,49.11 425.53,52.01 427.69,54.87 429.86,57.69 432.02,60.48 434.19,63.23 436.36,65.93 438.52,68.60 440.69,71.23 442.85,73.82 445.02,76.39 447.18,78.94 449.35,81.46 451.51,83.97 453.68,86.47 455.85,88.95 458.01,91.42 460.18,93.87 462.34,96.30 464.51,98.72 466.67,101.11 468.84,103.48 471.00,105.82 473.17,108.13 475.34,110.41 477.50,112.66 479.67,114.87 481.83,117.05 484.00,119.19 486.16,121.29 488.33,123.35 490.49,125.38 492.66,127.36 494.83,129.30 496.99,131.20 499.16,133.05 501.32,134.87 503.49,136.64 505.65,138.36 507.82,140.04 509.98,141.67 512.15,143.26 514.32,144.80 516.48,146.29 518.65,147.73 520.81,149.13 522.98,150.47 525.14,151.76 527.31,153.00 529.47,154.19 531.64,155.32 533.81,156.40 535.97,157.43 538.14,158.40 540.30,159.31 542.47,160.17 544.63,160.97 546.80,161.72 548.96,162.40 551.13,163.03 553.29,163.59 555.46,164.10 557.63,164.54 559.79,164.92 561.96,165.24 564.12,165.50 566.29,165.69 568.45,165.83 570.62,165.91 572.78,165.93 574.95,165.90 577.12,165.81 579.28,165.68 581.45,165.49 583.61,165.26 585.78,164.99 587.94,164.67 590.11,164.30 592.27,163.90 594.44,163.46 596.61,162.99 598.77,162.47 600.94,161.93 603.10,161.35 605.27,160.75 607.43,160.12 609.60,159.46 611.76,158.78 613.93,158.07 616.10,157.34 618.26,156.59 620.43,155.82 622.59,155.03 624.76,154.21 626.92,153.36 629.09,152.49 631.25,151.60 633.42,150.67 635.59,149.71 637.75,148.73 639.92,147.71 642.08,146.66 644.25,145.58 646.41,144.46 648.58,143.31 650.74,142.12 652.91,140.90 655.08,139.64 657.24,138.34 659.41,137.00 661.57,135.61 663.74,134.19 665.90,132.73 668.07,131.22 670.23,129.67 672.40,128.07" fill="none" stroke="#0000ff" stroke-width="1" stroke-dasharray="1 1.6" opacity="0.6"/>
<polyline points="414.60,135.38 416.76,135.23 418.91,135.12 421.07,135.03 423.23,134.98 425.38,134.95 427.54,134.97 429.69,135.01 431.85,135.10 434.01,135.21 436.16,135.37 438.32,135.56 440.48,135.79 442.63,136.06 444.79,136.38 446.94,136.73 449.10,137.12 451.26,137.56 453.41,138.04 455.57,138.57 457.73,139.14 459.88,139.76 462.04,140.42 464.19,141.12 466.35,141.87 468.51,142.66 470.66,143.48 472.82,144.33 474.98,145.22 477.13,146.14 479.29,147.08 481.45,148.04 483.60,149.03 485.76,150.04 487.91,151.06 490.07,152.09 492.23,153.14 494.38,154.20 496.54,155.26 498.70,156.33 500.85,157.40 503.01,158.46 505.16,159.53 507.32,160.59 509.48,161.64 511.63,162.68 513.79,163.70 515.95,164.71 518.10,165.71 520.26,166.68 522.42,167.63 524.57,168.55 526.73,169.45 528.88,170.31 531.04,171.15 533.20,171.94 535.35,172.70 537.51,173.42 539.67,174.10 541.82,174.73 543.98,175.33 546.13,175.89 548.29,176.41 550.45,176.90 552.60,177.36 554.76,177.79 556.92,178.19 559.07,178.58 561.23,178.94 563.38,179.28 565.54,179.61 567.70,179.92 569.85,180.22 572.01,180.52 574.17,180.80 576.32,181.08 578.48,181.36 580.64,181.64 582.79,181.92 584.95,182.21 587.10,182.50 589.26,182.81 591.42,183.12 593.57,183.46 595.73,183.80 597.89,184.17 600.04,184.56 602.20,184.97 604.35,185.41 606.51,185.87 608.67,186.37 610.82,186.90 612.98,187.47 615.14,188.07 617.29,188.72 619.45,189.40 621.61,190.14 623.76,190.91 625.92,191.73 628.07,192.60 630.23,193.50 632.39,194.44 634.54,195.43 636.70,196.44 638.86,197.50 641.01,198.59 643.17,199.71 645.32,200.87 647.48,202.05 649.64,203.27 651.79,204.52 653.95,205.79 656.11,207.09 658.26,208.41 660.42,209.76 662.57,211.13 664.73,212.52 666.89,213.92 669.04,215.35 671.20,216.80" fill="none" stroke="#0000ff" stroke-width="1" stroke-dasharray="1 1.6" opacity="0.6"/>
<polyline points="414.80,86.34 416.97,87.80 419.14,89.25 421.31,90.70 423.49,92.14 425.66,93.59 427.83,95.02 430.00,96.46 432.17,97.90 434.34,99.34 436.51,100.78 438.69,102.23 440.86,103.68 443.03,105.13 445.20,106.59 447.37,108.06 449.54,109.54 451.71,111.02 453.89,112.52 456.06,114.03 458.23,115.55 460.40,117.08 462.57,118.63 464.74,120.18 466.91,121.74 469.09,123.32 471.26,124.90 473.43,126.47 475.60,128.05 477.77,129.63 479.94,131.20 482.11,132.77 484.29,134.32 486.46,135.87 488.63,137.40 490.80,138.92 492.97,140.41 495.14,141.89 497.31,143.35 499.49,144.79 501.66,146.20 503.83,147.57 506.00,148.93 508.17,150.25 510.34,151.55 512.51,152.81 514.69,154.04 516.86,155.25 519.03,156.42 521.20,157.55 523.37,158.65 525.54,159.72 527.71,160.76 529.89,161.76 532.06,162.72 534.23,163.64 536.40,164.53 538.57,165.39 540.74,166.19 542.91,166.95 545.09,167.69 547.26,168.38 549.43,169.03 551.60,169.62 553.77,170.21 555.94,170.75 558.11,171.23 560.29,171.59 562.46,171.90 564.63,172.18 566.80,172.45 568.97,172.68 571.14,172.86 573.31,172.99 575.49,173.06 577.66,173.11 579.83,173.15 582.00,173.19 584.17,173.22 586.34,173.24 588.51,173.25 590.69,173.25 592.86,173.25 595.03,173.24 597.20,173.23 599.37,173.22 601.54,173.21 603.71,173.19 605.89,173.18 608.06,173.16 610.23,173.15 612.40,173.13 614.57,173.12 616.74,173.10 618.91,173.08 621.09,173.06 623.26,173.04 625.43,173.02 627.60,173.00 629.77,172.98 631.94,172.96 634.11,172.95 636.29,172.93 638.46,172.91 640.63,172.90 642.80,172.88 644.97,172.87 647.14,172.85 649.31,172.84 651.49,172.82 653.66,172.81 655.83,172.80 658.00,172.78 660.17,172.77 662.34,172.76 664.51,172.74 666.69,172.73 668.86,172.72 671.03,172.71 673.20,172.70" fill="none" stroke="#ff0000" stroke-width="1.35"/>
<path d="M414.63 238V245 M420.55 238V245 M425.29 238V245 M434.76 238V245 M437.13 238V245 M452.53 238V245 M453.71 238V245 M454.90 238V245 M456.08 238V245 M459.64 238V245 M460.82 238V245 M462.01 238V245 M467.93 238V245 M471.48 238V245 M472.67 238V245 M473.85 238V245 M475.04 238V245 M476.22 238V245 M477.40 238V245 M478.59 238V245 M480.96 238V245 M482.14 238V245 M485.70 238V245 M486.88 238V245 M488.06 238V245 M489.25 238V245 M491.62 238V245 M492.80 238V245 M493.99 238V245 M495.17 238V245 M497.54 238V245 M498.73 238V245 M499.91 238V245 M501.09 238V245 M502.28 238V245 M503.46 238V245 M504.65 238V245 M505.83 238V245 M507.02 238V245 M508.20 238V245 M509.39 238V245 M511.75 238V245 M512.94 238V245 M514.12 238V245 M515.31 238V245 M516.49 238V245 M517.68 238V245 M518.86 238V245 M520.05 238V245 M521.23 238V245 M522.41 238V245 M523.60 238V245 M524.78 238V245 M525.97 238V245 M527.15 238V245 M528.34 238V245 M529.52 238V245 M530.71 238V245 M531.89 238V245 M533.08 238V245 M534.26 238V245 M535.44 238V245 M536.63 238V245 M537.81 238V245 M539.00 238V245 M540.18 238V245 M541.37 238V245 M542.55 238V245 M543.74 238V245 M544.92 238V245 M546.11 238V245 M547.29 238V245 M548.47 238V245 M549.66 238V245 M550.84 238V245 M552.03 238V245 M553.21 238V245 M554.40 238V245 M555.58 238V245 M556.77 238V245 M557.95 238V245 M559.13 238V245 M560.32 238V245 M561.50 238V245 M562.69 238V245 M563.87 238V245 M565.06 238V245 M566.24 238V245 M567.43 238V245 M568.61 238V245 M569.80 238V245 M570.98 238V245 M572.16 238V245 M573.35 238V245 M574.53 238V245 M576.90 238V245 M578.09 238V245 M579.27 238V245 M580.46 238V245 M581.64 238V245 M584.01 238V245 M585.19 238V245 M586.38 238V245 M587.56 238V245 M588.75 238V245 M589.93 238V245 M591.12 238V245 M592.30 238V245 M593.49 238V245 M594.67 238V245 M595.85 238V245 M597.04 238V245 M598.22 238V245 M599.41 238V245 M600.59 238V245 M601.78 238V245 M602.96 238V245 M604.15 238V245 M605.33 238V245 M606.51 238V245 M607.70 238V245 M608.88 238V245 M610.07 238V245 M611.25 238V245 M612.44 238V245 M617.17 238V245 M626.65 238V245 M632.57 238V245 M633.76 238V245 M645.60 238V245 M647.97 238V245 M651.53 238V245 M653.89 238V245 M655.08 238V245 M671.66 238V245 M672.85 238V245" stroke="#333" stroke-width="0.65" fill="none"/>
<rect x="47.5" y="1.5" width="279" height="244" fill="none" stroke="#383838" stroke-width="1.1" stroke-linejoin="round"/>
<rect x="404.5" y="1.5" width="279" height="244" fill="none" stroke="#383838" stroke-width="1.1" stroke-linejoin="round"/>
<path d="M41.0 42.3H47.5 M41.0 96.5H47.5 M41.0 150.9H47.5 M41.0 205.3H47.5 M82.4 245.5V251.5 M141.6 245.5V251.5 M200.9 245.5V251.5 M260.1 245.5V251.5 M319.3 245.5V251.5 M398.0 42.3H404.5 M398.0 96.5H404.5 M398.0 150.9H404.5 M398.0 205.3H404.5 M439.5 245.5V251.5 M498.7 245.5V251.5 M558.0 245.5V251.5 M617.2 245.5V251.5 M676.4 245.5V251.5" stroke="#383838" stroke-width="1" fill="none"/>
<text transform="translate(33.3,42.3) rotate(-90)" text-anchor="middle" class="tl">10</text>
<text transform="translate(33.3,96.5) rotate(-90)" text-anchor="middle" class="tl">8</text>
<text transform="translate(33.3,150.9) rotate(-90)" text-anchor="middle" class="tl">6</text>
<text transform="translate(33.3,205.3) rotate(-90)" text-anchor="middle" class="tl">4</text>
<text transform="translate(82.4,266)" text-anchor="middle" class="tl">30</text>
<text transform="translate(141.6,266)" text-anchor="middle" class="tl">35</text>
<text transform="translate(200.9,266)" text-anchor="middle" class="tl">40</text>
<text transform="translate(260.1,266)" text-anchor="middle" class="tl">45</text>
<text transform="translate(319.3,266)" text-anchor="middle" class="tl">50</text>
<text transform="translate(390.3,42.3) rotate(-90)" text-anchor="middle" class="tl">10</text>
<text transform="translate(390.3,96.5) rotate(-90)" text-anchor="middle" class="tl">8</text>
<text transform="translate(390.3,150.9) rotate(-90)" text-anchor="middle" class="tl">6</text>
<text transform="translate(390.3,205.3) rotate(-90)" text-anchor="middle" class="tl">4</text>
<text transform="translate(439.5,266)" text-anchor="middle" class="tl">30</text>
<text transform="translate(498.7,266)" text-anchor="middle" class="tl">35</text>
<text transform="translate(558.0,266)" text-anchor="middle" class="tl">40</text>
<text transform="translate(617.2,266)" text-anchor="middle" class="tl">45</text>
<text transform="translate(676.4,266)" text-anchor="middle" class="tl">50</text>
<text transform="translate(137.1,285.9) scale(0.978,1)" class="ttl">Serum albumin</text>
<text x="226.7" y="285.9" class="ttl" font-weight="600">（</text>
<text x="241.8" y="285.9" class="ttl">g/L</text>
<text x="261.3" y="285.9" class="ttl" font-weight="600">）</text>
<text transform="translate(3.3,39.8) rotate(90) scale(0.977,1)" class="ttl">Length of hospitalisation (days)</text>
<text transform="translate(494.1,285.9) scale(0.978,1)" class="ttl">Serum albumin</text>
<text x="583.7" y="285.9" class="ttl" font-weight="600">（</text>
<text x="598.8" y="285.9" class="ttl">g/L</text>
<text x="618.3" y="285.9" class="ttl" font-weight="600">）</text>
<text transform="translate(359.8,39.8) rotate(90) scale(0.977,1)" class="ttl">Length of hospitalisation (days)</text>
<text x="24.8" y="17.8" class="ttl" style="stroke-width:0.05px">A</text>
<text x="381.8" y="17.8" class="ttl" style="stroke-width:0.05px">B</text>
</svg>
</body></html>
